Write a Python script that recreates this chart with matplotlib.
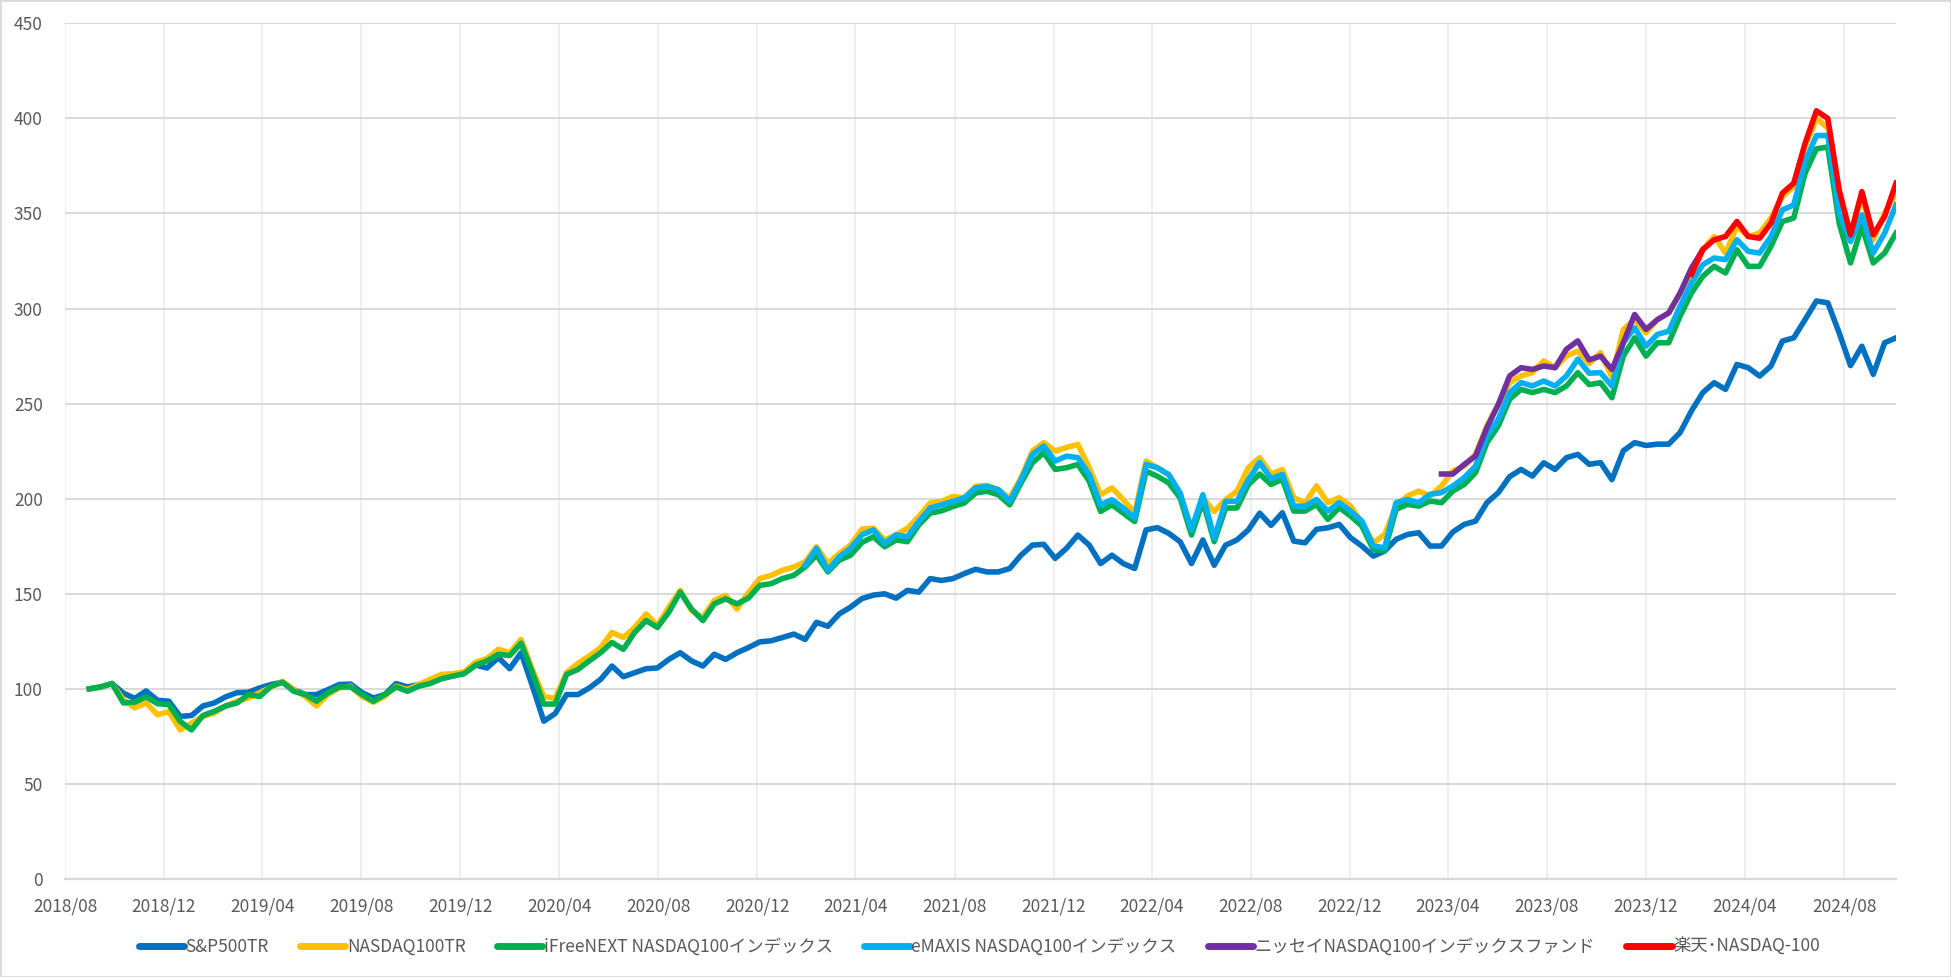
import matplotlib
matplotlib.use("Agg")
import matplotlib.pyplot as plt
import matplotlib.dates as mdates
from matplotlib.patches import Rectangle
import numpy as np
import pandas as pd

plt.rcParams['font.family'] = ['Noto Sans CJK JP', 'DejaVu Sans']

# biweekly index values, first point 2018-08-31 (=100)
dates = pd.date_range("2018-08-31", periods=160, freq="14D")

sp500 = [100, 101, 102.8, 97.7, 95, 98.9, 94, 93.5, 85.5, 86,
         91, 92.6, 95.8, 98, 98.2, 100.5, 102.3, 103.5, 99.6, 97,
         97, 99.6, 102.3, 102.5, 98, 95.2, 97, 102.8, 101, 102.3,
         104, 106.4, 107, 108.5, 112.5, 111, 116.4, 110.6, 119, 101.4,
         83, 87, 97, 97, 100.5, 105, 112, 106.4, 108.5, 110.6,
         111, 115.5, 119, 114.7, 112, 118.2, 115.5, 119, 121.7, 124.7,
         125.3, 127, 128.8, 126, 135, 132.9, 139.4, 143, 147.5, 149.3,
         150, 147.7, 151.8, 150.9, 158, 157, 158, 160.6, 162.9, 161.5,
         161.5, 163.3, 170.3, 175.6, 176, 168.6, 173.9, 180.9, 175.6, 165.9,
         170.3, 165.9, 163.3, 183.6, 184.8, 181.8, 177.4, 165.9, 178.3, 165,
         175.6, 178.3, 183.6, 192.4, 186, 192.6, 177.7, 176.8, 183.9, 184.7,
         186.5, 179.5, 175.1, 169.8, 172.5, 178.6, 181.2, 182.1, 175.1, 175.1,
         182.5, 186.5, 188.2, 197.9, 203.2, 211.6, 215.4, 211.9, 218.9, 215.4,
         221.6, 223.3, 218.1, 219, 210, 225.2, 229.5, 228, 228.7, 228.7,
         234.8, 246.2, 255.8, 261, 257.5, 270.6, 268.9, 264.5, 269.8, 282.9,
         284.6, 294.2, 304, 303, 287.2, 270, 280.2, 265.4, 282, 284.6]

nasdaq = [100, 101, 102.8, 94.3, 90, 92.6, 86.4, 88, 78.4, 82,
          85.5, 87.3, 91, 93.5, 95.2, 98, 101, 104, 99.6, 96,
          91, 97, 100.5, 101.4, 96, 93, 96, 101.4, 99.6, 102.3,
          105, 107.6, 108, 109, 114, 116, 120.8, 119, 126, 110,
          96, 95, 108.5, 113.4, 117.3, 121.7, 129.7, 127, 132.3, 139.4,
          133.2, 143, 151.8, 141.2, 137.6, 146.5, 149.1, 142, 150.5, 158,
          159.7, 162.4, 164.1, 166.8, 174.7, 165.9, 171.2, 175.6, 184, 184.5,
          178.3, 181, 184.5, 190.6, 197.7, 198.6, 201.2, 200.4, 206.5, 207,
          204.8, 200.4, 211, 225.1, 229.5, 225.1, 226.9, 228.6, 216.3, 202.1,
          205.7, 199.5, 192.4, 219.8, 216.3, 212.7, 202.1, 184.5, 200.4, 193.3,
          199.5, 203.9, 216.3, 221.6, 213, 215.4, 200.5, 197.9, 206.7, 197.9,
          200.5, 196.1, 187.4, 176.8, 181.2, 196.1, 201.4, 204, 201.4, 206.7,
          214.6, 217.2, 223.3, 238.2, 249.6, 261.1, 264.6, 266.3, 272.5, 268.9,
          275.1, 277.7, 271, 276.8, 264, 289, 294.2, 287.2, 294.2, 297.7,
          308.2, 319.6, 331, 337.9, 329.2, 343.2, 337.9, 339.7, 347.6, 358.9,
          364.2, 385.1, 400, 395, 360.7, 339.7, 358.9, 336.2, 350.2, 360.7]

ifree = [100, 101, 102.8, 92.6, 93, 95.8, 92.2, 91.7, 82.9, 78.4,
         86, 88.2, 91, 92.6, 97, 96, 101.4, 103.5, 98.7, 97,
         93.5, 97.9, 101, 101, 97, 93.5, 97, 101, 98.7, 101.4,
         102.8, 105.3, 106.7, 108, 112.5, 114.7, 118.2, 117.5, 124, 108.5,
         92, 92, 107.6, 110.2, 114.7, 119, 124.4, 120.8, 129.7, 135.9,
         132.3, 140.3, 150.9, 142, 135.9, 144.7, 147.3, 144.7, 147.7, 154.4,
         155.3, 158, 159.7, 164.1, 170.3, 161.5, 167.7, 170.3, 177, 180,
         174.7, 178.3, 177.4, 186.2, 192.4, 193.6, 195.9, 197.7, 203, 203.9,
         202.1, 196.8, 208.3, 218.9, 224.2, 215.4, 216.3, 218, 209.2, 193.3,
         196.8, 192.4, 188, 214.5, 211.8, 208.3, 200.4, 180.9, 198.6, 177.4,
         195.1, 195.1, 207.4, 213, 207.5, 210.2, 193.5, 193.5, 197, 189.1,
         195.3, 190.9, 185.6, 173.3, 172.5, 194.4, 197, 196.1, 198.8, 197.9,
         204, 207.5, 213.7, 229.5, 238.2, 252.3, 257.5, 255.8, 257.5, 255.8,
         259.3, 266.3, 260, 261, 253.1, 275, 284.6, 275, 282, 282,
         296, 308.2, 317, 322.2, 318.7, 330.9, 322.2, 322.2, 332.7, 345.8,
         347.6, 371.2, 384, 385, 344.9, 324, 343.2, 324, 329.2, 339.7]

# eMAXIS starts 2021-01-29 (point 63)
emaxis_start = 63
emaxis = [165, 173.9, 162.4, 169.4, 173.9, 181, 183.6,
          176.5, 181, 180, 188, 195.1, 196.8, 198.6, 200.4, 205.7, 206.5,
          204.8, 198.6, 210, 223.3, 227.7, 219.8, 222.4, 221.6, 212.7, 196.8,
          199.5, 195.1, 189.8, 218, 216.3, 212.7, 203, 183.6, 202.1, 179.2,
          198.6, 198.6, 210, 219, 210.5, 212.8, 196.1, 196.1, 199.6, 193.5,
          197.9, 193.5, 188.2, 175.1, 174.2, 197.9, 199.6, 197.9, 202.3, 203.2,
          206.7, 211.1, 217.2, 233, 241.8, 255.8, 261.1, 259.3, 261.9, 259.3,
          264.6, 273.4, 266, 266.3, 259.3, 282, 289.9, 280.2, 286.4, 288.1,
          301.2, 313.5, 323.1, 326.6, 325.7, 336.2, 330.1, 329.2, 337.9, 351.9,
          354.5, 377.3, 391, 391, 350.2, 335.3, 349.3, 329.2, 339.7, 354.5]

# ニッセイ from point 119
nissay_start = 119
nissay = [213, 213, 218, 222.5, 237.4, 249.6, 264.6, 268.9, 268, 269.8,
          268.9, 278.6, 283, 273, 275, 268, 282, 296.9, 289, 294.2,
          297.7, 308.2, 321.3, 331]

# 楽天 from point 141
rakuten_start = 141
rakuten = [318, 331, 336.2, 337.9, 345.8, 337.9, 337, 344.9, 360.7, 365.9,
           386.9, 404, 400, 362.4, 338.8, 361.5, 338.8, 348.4, 365.9]

labels = ["S&P500TR", "NASDAQ100TR", "iFreeNEXT NASDAQ100インデックス",
          "eMAXIS NASDAQ100インデックス", "ニッセイNASDAQ100インデックスファンド",
          "楽天･NASDAQ-100"]
colors = ["#0070C0", "#FFC000", "#00B050", "#00B0F0", "#7030A0", "#FF0000"]

series = [
    (dates, sp500),
    (dates, nasdaq),
    (dates, ifree),
    (dates[emaxis_start:emaxis_start + len(emaxis)], emaxis),
    (dates[nissay_start:nissay_start + len(nissay)], nissay),
    (dates[rakuten_start:rakuten_start + len(rakuten)], rakuten),
]

fig = plt.figure(figsize=(19.51, 9.77), dpi=100)
ax = fig.add_axes([0.0333, 0.1003, 0.9385, 0.8758])

for (x, y), lab, c in zip(series, labels, colors):
    ax.plot(x, y, color=c, lw=4, label=lab, solid_joinstyle="round")

ax.set_ylim(0, 450)
ax.set_yticks(np.arange(0, 451, 50))
ax.set_xlim(pd.Timestamp("2018-08-01"), dates[-1])
xt = pd.date_range("2018-08-01", "2024-08-01", freq="4MS")
ax.set_xticks(xt)
ax.xaxis.set_major_formatter(mdates.DateFormatter("%Y/%m"))

ax.grid(axis="y", color="#d9d9d9", lw=1.4)
ax.grid(axis="x", color="#eeeeee", lw=1.4)
ax.set_axisbelow(True)
for s in ["top", "right", "left"]:
    ax.spines[s].set_visible(False)
ax.spines["bottom"].set_color("#d9d9d9")
ax.spines["bottom"].set_linewidth(1.6)
ax.tick_params(axis="both", length=0, labelsize=12.5, labelcolor="#595959")
ax.tick_params(axis="x", pad=13)
ax.tick_params(axis="y", pad=16)

leg = fig.legend(loc="center", bbox_to_anchor=(0.502, 0.031), ncol=6, frameon=False,
                 fontsize=12.5, handlelength=2.6, handletextpad=0.1, columnspacing=1.8)
for t in leg.get_texts():
    t.set_color("#595959")
for h in leg.get_lines():
    h.set_linewidth(5)
    h.set_solid_capstyle("round")

fig.patches.append(Rectangle((0, 0), 1, 1, transform=fig.transFigure, fill=False,
                             edgecolor="#d9d9d9", lw=2))

fig.savefig("out.png", dpi=100)
